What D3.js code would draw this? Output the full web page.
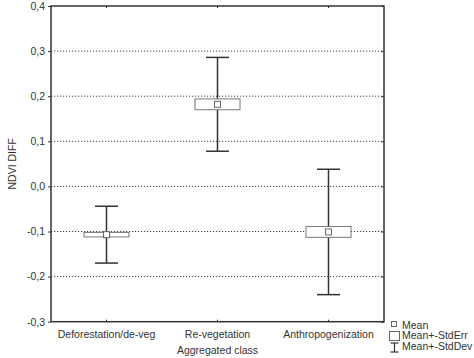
<!DOCTYPE html>
<html><head><meta charset="utf-8">
<script src="https://cdn.jsdelivr.net/npm/d3@7"></script>
<style>body{margin:0;background:#fff;} svg{display:block;font-family:"Liberation Sans",Arial,sans-serif;}</style>
</head><body>
<svg id="c" width="474" height="358"></svg>
<script>
const categories = ["Deforestation/de-veg", "Re-vegetation", "Anthropogenization"];
const means = [-0.107, 0.182, -0.101];
const stdErr = [0.005, 0.012, 0.012];
const stdDev = [0.063, 0.104, 0.139];
const yTicks = [-0.3, -0.2, -0.1, 0.0, 0.1, 0.2, 0.3, 0.4];
const legendLabels = ["Mean", "Mean+-StdErr", "Mean+-StdDev"];

const svg = d3.select("#c");
const L = 51, R = 384, T = 6, B = 321.7;
const x = d3.scaleBand().domain(categories).range([L, R]).padding(0);
const y = d3.scaleLinear().domain([-0.3, 0.4]).range([B, T]);
const fmt = v => d3.format(".1f")(v).replace(".", ",").replace("−", "-");
const ink = "#333";

// grid
svg.append("g").selectAll("line").data(yTicks.filter(v => v > -0.3 && v < 0.4)).join("line")
  .attr("x1", L).attr("x2", R).attr("y1", d => y(d)).attr("y2", d => y(d))
  .attr("stroke", "#444").attr("stroke-width", 1).attr("stroke-dasharray", "1.2,1.8");

// left axis
const ya = svg.append("g").attr("transform", `translate(${L},0)`)
  .call(d3.axisLeft(y).tickValues(yTicks).tickFormat(fmt).tickSize(3).tickPadding(3));
ya.select(".domain").remove();
ya.selectAll("line").attr("stroke", ink);
ya.selectAll("text").attr("font-size", 10.5).attr("fill", ink);

// right ticks (inward)
svg.append("g").attr("transform", `translate(${R},0)`)
  .call(d3.axisRight(y).tickValues(yTicks).tickSize(-3).tickFormat(""))
  .call(g => { g.select(".domain").remove(); g.selectAll("line").attr("stroke", ink); });

// bottom axis
const xa = svg.append("g").attr("transform", `translate(0,${B})`)
  .call(d3.axisBottom(x).tickSize(-2).tickPadding(9));
xa.select(".domain").remove();
xa.selectAll("line").attr("stroke", ink);
xa.selectAll("text").attr("font-size", 10.5).attr("fill", ink);
// top ticks
svg.append("g").attr("transform", `translate(0,${T})`)
  .call(d3.axisTop(x).tickSize(-2).tickFormat(""))
  .call(g => { g.select(".domain").remove(); g.selectAll("line").attr("stroke", ink); });

// frame
svg.append("rect").attr("x", L).attr("y", T).attr("width", R - L).attr("height", B - T)
  .attr("fill", "none").attr("stroke", ink).attr("stroke-width", 1.5);

// marks
const bw = 45, cw = 23;
const g = svg.append("g").selectAll("g").data(categories).join("g")
  .attr("transform", d => `translate(${x(d) + x.bandwidth() / 2},0)`);
g.append("line").attr("x1", 0).attr("x2", 0)
  .attr("y1", (d, i) => y(means[i] + stdDev[i])).attr("y2", (d, i) => y(means[i] - stdDev[i]))
  .attr("stroke", ink).attr("stroke-width", 1.5);
g.append("line").attr("x1", -cw / 2).attr("x2", cw / 2)
  .attr("y1", (d, i) => y(means[i] + stdDev[i])).attr("y2", (d, i) => y(means[i] + stdDev[i]))
  .attr("stroke", ink).attr("stroke-width", 1.5);
g.append("line").attr("x1", -cw / 2).attr("x2", cw / 2)
  .attr("y1", (d, i) => y(means[i] - stdDev[i])).attr("y2", (d, i) => y(means[i] - stdDev[i]))
  .attr("stroke", ink).attr("stroke-width", 1.5);
g.append("rect").attr("x", -bw / 2).attr("width", bw)
  .attr("y", (d, i) => y(means[i] + stdErr[i]))
  .attr("height", (d, i) => y(means[i] - stdErr[i]) - y(means[i] + stdErr[i]))
  .attr("fill", "#fff").attr("stroke", "#777").attr("stroke-width", 1);
g.append("rect").attr("x", -3).attr("width", 6)
  .attr("y", (d, i) => y(means[i]) - 3).attr("height", 6)
  .attr("fill", "#fff").attr("stroke", "#666").attr("stroke-width", 1);

// axis titles
svg.append("text").attr("transform", `translate(16,${(T + B) / 2}) rotate(-90)`)
  .attr("text-anchor", "middle").attr("font-size", 10.5).attr("fill", ink).text("NDVI DIFF");
svg.append("text").attr("x", (L + R) / 2).attr("y", 354)
  .attr("text-anchor", "middle").attr("font-size", 10.5).attr("fill", ink).text("Aggregated class");

// legend
const lg = svg.append("g").attr("font-size", 10.5).attr("fill", ink);
lg.append("rect").attr("x", 391.5).attr("y", 321.5).attr("width", 5).attr("height", 5)
  .attr("fill", "#fff").attr("stroke", "#666");
lg.append("rect").attr("x", 389.5).attr("y", 331.5).attr("width", 10).attr("height", 9)
  .attr("fill", "#fff").attr("stroke", "#666");
lg.append("line").attr("x1", 394.5).attr("x2", 394.5).attr("y1", 343).attr("y2", 352).attr("stroke", ink).attr("stroke-width", 1.2);
lg.append("line").attr("x1", 390.5).attr("x2", 398.5).attr("y1", 343).attr("y2", 343).attr("stroke", ink).attr("stroke-width", 1.2);
lg.append("line").attr("x1", 390.5).attr("x2", 398.5).attr("y1", 352).attr("y2", 352).attr("stroke", ink).attr("stroke-width", 1.2);
lg.selectAll("text").data(legendLabels).join("text")
  .attr("x", 402).attr("y", (d, i) => 328.5 + i * 10.5).text(d => d);
</script>
</body></html>
